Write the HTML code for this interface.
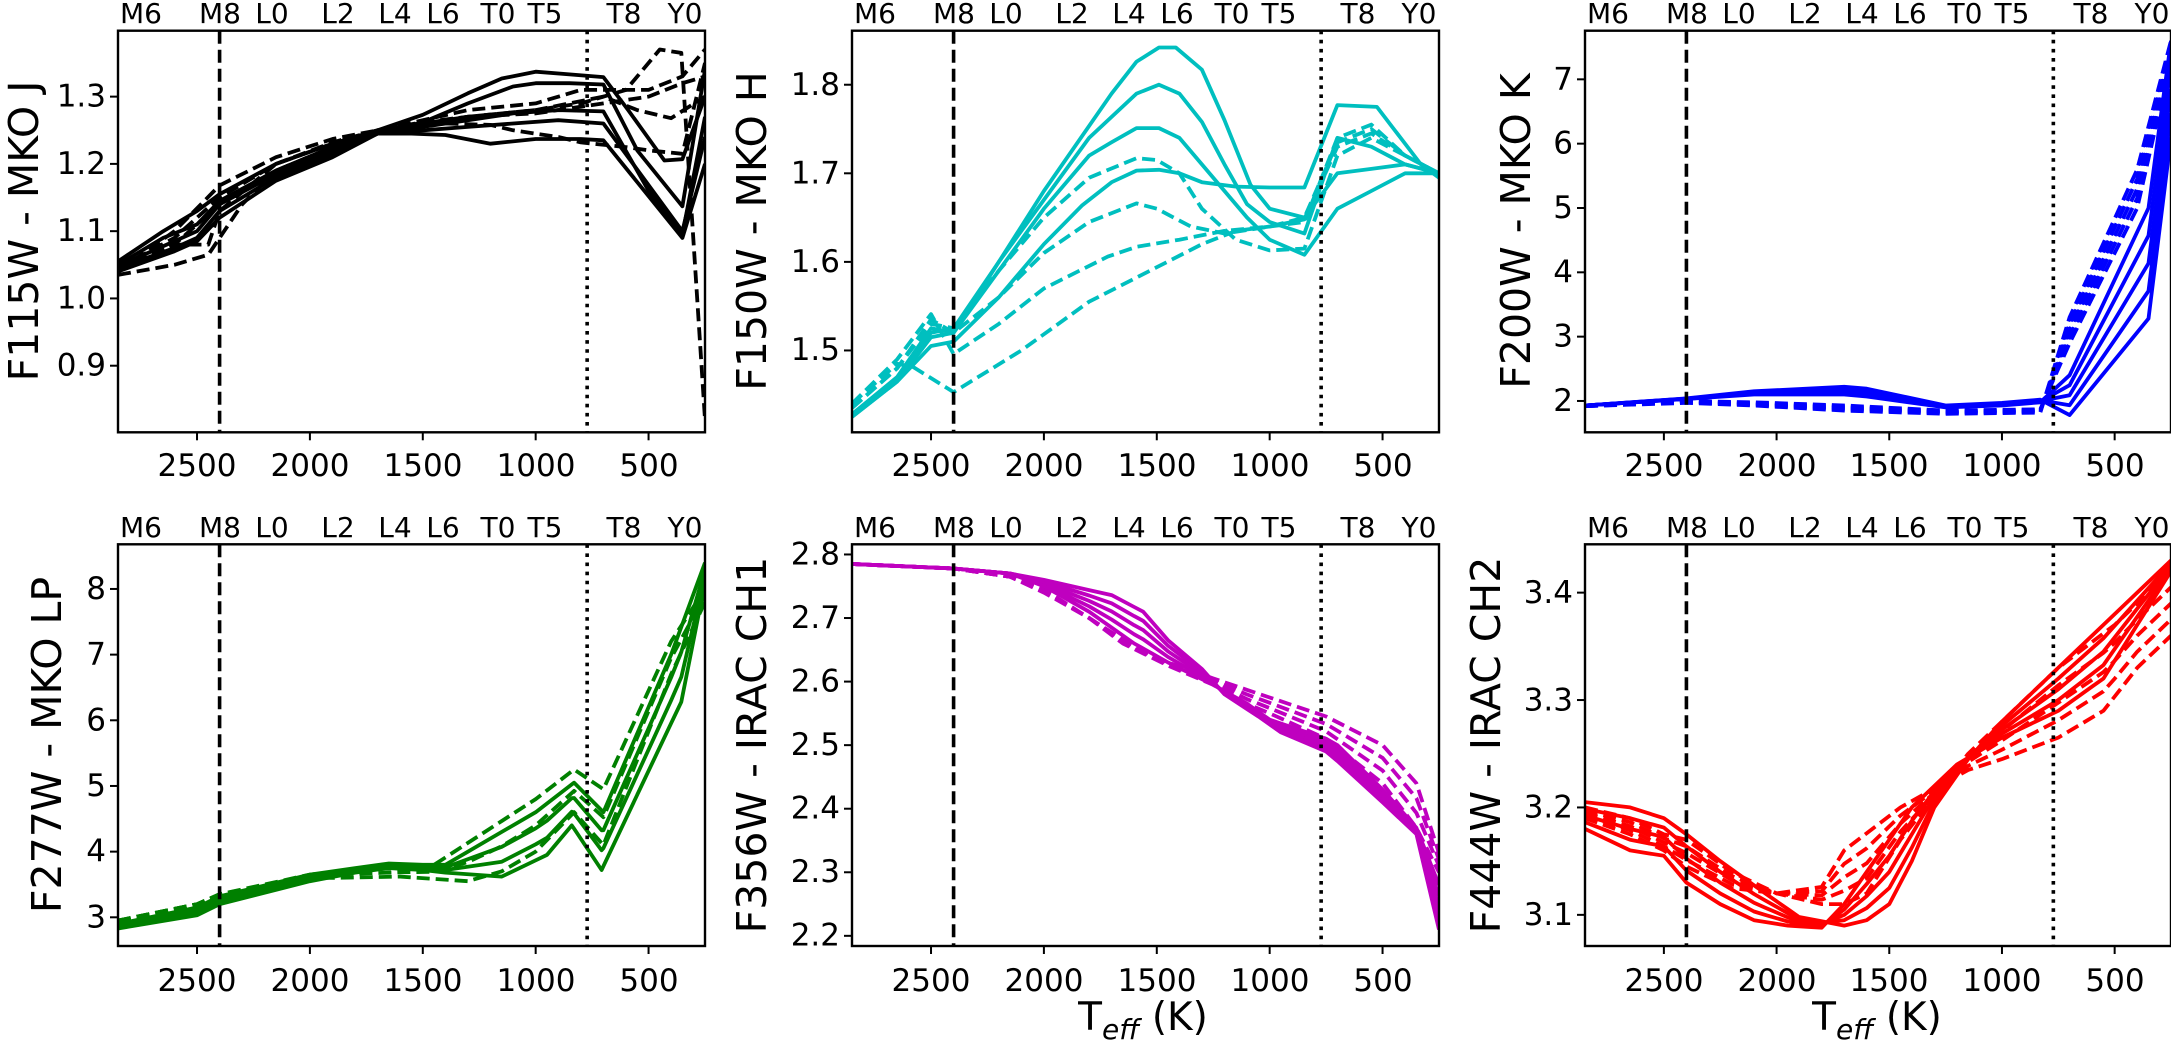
<!DOCTYPE html>
<html><head><meta charset="utf-8"><style>
html,body{margin:0;padding:0;background:#fff;}
svg{display:block;}
text{font-family:"DejaVu Sans","Liberation Sans",sans-serif;fill:#000;}
.tk{font-size:31px;}
.sp{font-size:28px;text-anchor:middle;}
.yl{font-size:41px;text-anchor:middle;dominant-baseline:central;}
</style></head><body>
<svg id="s" width="2171" height="1043" viewBox="0 0 2171 1043" xmlns="http://www.w3.org/2000/svg">
<defs>
<clipPath id="c0"><rect x="118" y="30.7" width="587" height="401.6"/></clipPath>
<clipPath id="c1"><rect x="852" y="30.7" width="587" height="401.6"/></clipPath>
<clipPath id="c2"><rect x="1585" y="30.7" width="586" height="401.6"/></clipPath>
<clipPath id="c3"><rect x="118" y="544.3" width="587" height="401.7"/></clipPath>
<clipPath id="c4"><rect x="852" y="544.3" width="587" height="401.7"/></clipPath>
<clipPath id="c5"><rect x="1585" y="544.3" width="586" height="401.7"/></clipPath>
</defs>
<g id="curves"></g>
<g id="axes"></g>
<text class="yl" transform="translate(24,231) rotate(-90)">F115W - MKO J</text>
<text class="yl" transform="translate(752,231) rotate(-90)">F150W - MKO H</text>
<text class="yl" transform="translate(1516,231) rotate(-90)">F200W - MKO K</text>
<text class="yl" transform="translate(47,745) rotate(-90)">F277W - MKO LP</text>
<text class="yl" transform="translate(752,745) rotate(-90)">F356W - IRAC CH1</text>
<text class="yl" transform="translate(1486,745) rotate(-90)">F444W - IRAC CH2</text>
<text x="1143" y="1030" style="font-size:39px;text-anchor:middle">T<tspan dy="9" style="font-size:28px;font-style:italic">eff</tspan><tspan dy="-9"> (K)</tspan></text>
<text x="1877" y="1030" style="font-size:39px;text-anchor:middle">T<tspan dy="9" style="font-size:28px;font-style:italic">eff</tspan><tspan dy="-9"> (K)</tspan></text>
<g class="tk" style="text-anchor:end;dominant-baseline:central">
<text x="106" y="96.7">1.3</text><text x="106" y="163.9">1.2</text><text x="106" y="231.1">1.1</text><text x="106" y="298.3">1.0</text><text x="106" y="365.5">0.9</text>
<text x="840" y="85">1.8</text><text x="840" y="173.4">1.7</text><text x="840" y="261.8">1.6</text><text x="840" y="350.2">1.5</text>
<text x="1573" y="79.3">7</text><text x="1573" y="143.6">6</text><text x="1573" y="208">5</text><text x="1573" y="272.3">4</text><text x="1573" y="336.6">3</text><text x="1573" y="401">2</text>
<text x="106" y="589">8</text><text x="106" y="654.7">7</text><text x="106" y="720.3">6</text><text x="106" y="786">5</text><text x="106" y="851.7">4</text><text x="106" y="917.3">3</text>
<text x="840" y="554.7">2.8</text><text x="840" y="618.2">2.7</text><text x="840" y="681.7">2.6</text><text x="840" y="745.2">2.5</text><text x="840" y="808.7">2.4</text><text x="840" y="872.2">2.3</text><text x="840" y="935.7">2.2</text>
<text x="1573" y="593">3.4</text><text x="1573" y="700.3">3.3</text><text x="1573" y="807.7">3.2</text><text x="1573" y="915">3.1</text>
</g>
<g class="tk" style="text-anchor:middle">
<text x="197" y="476">2500</text><text x="310" y="476">2000</text><text x="423" y="476">1500</text><text x="536" y="476">1000</text><text x="649" y="476">500</text>
<text x="931" y="476">2500</text><text x="1044" y="476">2000</text><text x="1157" y="476">1500</text><text x="1270" y="476">1000</text><text x="1383" y="476">500</text>
<text x="1664" y="476">2500</text><text x="1777" y="476">2000</text><text x="1889" y="476">1500</text><text x="2002" y="476">1000</text><text x="2115" y="476">500</text>
<text x="197" y="991">2500</text><text x="310" y="991">2000</text><text x="423" y="991">1500</text><text x="536" y="991">1000</text><text x="649" y="991">500</text>
<text x="931" y="991">2500</text><text x="1044" y="991">2000</text><text x="1157" y="991">1500</text><text x="1270" y="991">1000</text><text x="1383" y="991">500</text>
<text x="1664" y="991">2500</text><text x="1777" y="991">2000</text><text x="1889" y="991">1500</text><text x="2002" y="991">1000</text><text x="2115" y="991">500</text>
</g>
<g class="sp">
<text x="141" y="23">M6</text><text x="220" y="23">M8</text><text x="272" y="23">L0</text><text x="338" y="23">L2</text><text x="395" y="23">L4</text><text x="443" y="23">L6</text><text x="498" y="23">T0</text><text x="545" y="23">T5</text><text x="624" y="23">T8</text><text x="685" y="23">Y0</text>
<text x="875" y="23">M6</text><text x="954" y="23">M8</text><text x="1006" y="23">L0</text><text x="1072" y="23">L2</text><text x="1129" y="23">L4</text><text x="1177" y="23">L6</text><text x="1232" y="23">T0</text><text x="1279" y="23">T5</text><text x="1358" y="23">T8</text><text x="1419" y="23">Y0</text>
<text x="1608" y="23">M6</text><text x="1687" y="23">M8</text><text x="1739" y="23">L0</text><text x="1805" y="23">L2</text><text x="1862" y="23">L4</text><text x="1910" y="23">L6</text><text x="1965" y="23">T0</text><text x="2012" y="23">T5</text><text x="2091" y="23">T8</text><text x="2152" y="23">Y0</text>
<text x="141" y="537">M6</text><text x="220" y="537">M8</text><text x="272" y="537">L0</text><text x="338" y="537">L2</text><text x="395" y="537">L4</text><text x="443" y="537">L6</text><text x="498" y="537">T0</text><text x="545" y="537">T5</text><text x="624" y="537">T8</text><text x="685" y="537">Y0</text>
<text x="875" y="537">M6</text><text x="954" y="537">M8</text><text x="1006" y="537">L0</text><text x="1072" y="537">L2</text><text x="1129" y="537">L4</text><text x="1177" y="537">L6</text><text x="1232" y="537">T0</text><text x="1279" y="537">T5</text><text x="1358" y="537">T8</text><text x="1419" y="537">Y0</text>
<text x="1608" y="537">M6</text><text x="1687" y="537">M8</text><text x="1739" y="537">L0</text><text x="1805" y="537">L2</text><text x="1862" y="537">L4</text><text x="1910" y="537">L6</text><text x="1965" y="537">T0</text><text x="2012" y="537">T5</text><text x="2091" y="537">T8</text><text x="2152" y="537">Y0</text>
</g>
</svg>
<script>
(function(){
var NS="http://www.w3.org/2000/svg";
var P=[
{L:118,R:705,T:30.7,B:432.3,y0:0.801,y1:1.398,c:"#000000",yt:[0.9,1.0,1.1,1.2,1.3]},
{L:852,R:1439,T:30.7,B:432.3,y0:1.4076,y1:1.861,c:"#00bfbf",yt:[1.5,1.6,1.7,1.8]},
{L:1585,R:2171,T:30.7,B:432.3,y0:1.513,y1:7.756,c:"#0000ff",yt:[2,3,4,5,6,7]},
{L:118,R:705,T:544.3,B:946,y0:2.563,y1:8.68,c:"#008000",yt:[3,4,5,6,7,8]},
{L:852,R:1439,T:544.3,B:946,y0:2.184,y1:2.816,c:"#bf00bf",yt:[2.2,2.3,2.4,2.5,2.6,2.7,2.8]},
{L:1585,R:2171,T:544.3,B:946,y0:3.071,y1:3.445,c:"#ff0000",yt:[3.1,3.2,3.3,3.4]}
];
function X(p,t){return p.L+(2850-t)/2600*(p.R-p.L);}
function Y(p,v){return p.B-(v-p.y0)/(p.y1-p.y0)*(p.B-p.T);}
function ip(a,t){for(var i=0;i<a.length-1;i++){var A=a[i],B=a[i+1];if(t<=A[0]&&t>=B[0]){var f=(A[0]-t)/(A[0]-B[0]||1);return A[1]+f*(B[1]-A[1]);}}return t>a[0][0]?a[0][1]:a[a.length-1][1];}
function mix(a,b,f){var ts={};a.forEach(function(q){ts[q[0]]=1});b.forEach(function(q){ts[q[0]]=1});
 var arr=Object.keys(ts).map(Number).sort(function(x,y){return y-x});
 return arr.map(function(t){return [t,ip(a,t)*(1-f)+ip(b,t)*f];});}
var cg=document.getElementById("curves"),ag=document.getElementById("axes");
function el(n,at,par){var e=document.createElementNS(NS,n);for(var k in at)e.setAttribute(k,at[k]);par.appendChild(e);return e;}
function draw(i,pts,dash){var p=P[i];var d=pts.map(function(q,j){return (j?"L":"M")+X(p,q[0]).toFixed(1)+" "+Y(p,q[1]).toFixed(1)}).join("");
 var a={d:d,fill:"none",stroke:p.c,"stroke-width":3.8,"stroke-linejoin":"round","clip-path":"url(#c"+i+")"};if(dash)a["stroke-dasharray"]="13 6";el("path",a,cg);}
var D=[];
D[0]={s:[
[[2850,1.055],[2650,1.10],[2500,1.13],[2400,1.155],[2150,1.20],[1900,1.23],[1700,1.25],[1500,1.273],[1300,1.305],[1150,1.327],[1000,1.337],[850,1.333],[700,1.329],[590,1.28],[430,1.205],[350,1.207],[250,1.30]],
[[2850,1.05],[2650,1.09],[2500,1.11],[2400,1.145],[2150,1.19],[1900,1.225],[1700,1.245],[1500,1.262],[1300,1.29],[1100,1.315],[1000,1.32],[850,1.32],[700,1.318],[550,1.22],[350,1.137],[250,1.34]],
[[2850,1.048],[2600,1.085],[2500,1.10],[2400,1.14],[2150,1.185],[1900,1.22],[1700,1.245],[1500,1.255],[1300,1.265],[1100,1.275],[900,1.28],[700,1.278],[500,1.16],[350,1.095],[250,1.27]],
[[2850,1.045],[2600,1.075],[2500,1.09],[2400,1.13],[2150,1.18],[1900,1.215],[1700,1.245],[1500,1.25],[1300,1.255],[1100,1.26],[900,1.265],[700,1.26],[350,1.10],[250,1.24]],
[[2850,1.04],[2600,1.07],[2500,1.085],[2400,1.12],[2150,1.175],[1900,1.21],[1700,1.245],[1550,1.245],[1400,1.243],[1200,1.23],[1000,1.237],[800,1.237],[700,1.235],[350,1.09],[250,1.20]]],
d:[
[[2850,1.035],[2600,1.05],[2450,1.065],[2400,1.09],[2300,1.14],[2150,1.19],[1900,1.225],[1700,1.25],[1500,1.26],[1300,1.27],[1000,1.28],[800,1.29],[600,1.31],[450,1.37],[355,1.365],[250,0.82]],
[[2850,1.04],[2600,1.10],[2400,1.168],[2150,1.21],[1900,1.237],[1700,1.25],[1500,1.265],[1300,1.28],[1000,1.29],[800,1.31],[600,1.31],[500,1.31],[350,1.33],[250,1.37]],
[[2850,1.042],[2600,1.08],[2450,1.08],[2400,1.13],[2150,1.2],[1900,1.23],[1700,1.25],[1400,1.26],[1200,1.258],[1100,1.25],[900,1.24],[800,1.232],[600,1.225],[500,1.22],[350,1.215],[250,1.35]],
[[2850,1.045],[2600,1.09],[2400,1.15],[2150,1.2],[1900,1.232],[1700,1.25],[1500,1.262],[1300,1.27],[1000,1.28],[700,1.30],[550,1.28],[400,1.268],[250,1.30]],
[[2850,1.04],[2600,1.08],[2400,1.14],[2150,1.19],[1900,1.225],[1700,1.25],[1500,1.26],[1300,1.27],[1000,1.275],[700,1.29],[500,1.30],[350,1.32],[250,1.33]]]};
D[1]={s:[
[[2850,1.428],[2650,1.47],[2500,1.525],[2400,1.52],[2200,1.6],[2000,1.68],[1700,1.79],[1590,1.826],[1490,1.842],[1416,1.842],[1300,1.817],[1200,1.76],[1085,1.687],[1000,1.66],[846,1.65],[700,1.70],[550,1.705],[400,1.71],[250,1.70]],
[[2850,1.428],[2650,1.468],[2500,1.52],[2400,1.525],[2200,1.6],[2000,1.67],[1800,1.74],[1590,1.79],[1490,1.80],[1400,1.79],[1300,1.758],[1200,1.71],[1100,1.665],[1000,1.645],[846,1.632],[700,1.74],[550,1.73],[400,1.71],[250,1.70]],
[[2850,1.425],[2650,1.465],[2500,1.515],[2400,1.52],[2200,1.59],[2000,1.66],[1800,1.72],[1700,1.735],[1590,1.751],[1490,1.751],[1400,1.74],[1300,1.71],[1200,1.68],[1100,1.65],[1000,1.625],[846,1.608],[700,1.66],[550,1.68],[400,1.70],[250,1.70]],
[[2850,1.425],[2650,1.465],[2500,1.505],[2400,1.51],[2200,1.56],[2000,1.62],[1830,1.664],[1700,1.69],[1590,1.703],[1490,1.704],[1400,1.70],[1300,1.69],[1150,1.685],[1000,1.684],[846,1.684],[700,1.777],[525,1.775],[450,1.75],[330,1.71],[250,1.695]]],
d:[
[[2850,1.44],[2650,1.49],[2500,1.541],[2400,1.496],[2200,1.53],[2000,1.57],[1717,1.606],[1590,1.617],[1400,1.625],[1200,1.635],[1000,1.64],[846,1.645],[700,1.74],[550,1.755],[400,1.72],[250,1.70]],
[[2850,1.44],[2650,1.485],[2577,1.481],[2400,1.453],[2100,1.50],[1800,1.555],[1500,1.594],[1300,1.62],[1150,1.635],[1000,1.64],[846,1.648],[700,1.73],[550,1.745],[400,1.72],[250,1.70]],
[[2850,1.435],[2650,1.48],[2500,1.535],[2400,1.52],[2200,1.56],[2000,1.61],[1800,1.645],[1590,1.666],[1500,1.66],[1350,1.64],[1200,1.632],[1000,1.64],[846,1.65],[700,1.735],[550,1.75],[400,1.72],[250,1.70]],
[[2850,1.435],[2650,1.48],[2500,1.53],[2400,1.525],[2200,1.59],[2000,1.65],[1800,1.695],[1590,1.717],[1500,1.715],[1400,1.70],[1300,1.66],[1150,1.625],[1000,1.613],[846,1.615],[700,1.72],[550,1.74],[400,1.72],[250,1.70]]]};
function fam(a,b,n){var r=[];for(var k=0;k<n;k++)r.push(mix(a,b,n>1?k/(n-1):0));return r;}
D[2]={s:fam([[2850,1.93],[2400,2.04],[2100,2.15],[1700,2.22],[1600,2.19],[1250,1.93],[1000,1.97],[830,2.02],[700,1.78],[350,3.28],[250,6.1]],
 [[2850,1.93],[2400,2.03],[2100,2.1],[1700,2.1],[1600,2.07],[1250,1.9],[1000,1.93],[830,1.98],[700,2.4],[350,5.0],[250,7.6]],5),
 d:fam([[2850,1.92],[2400,2.0],[2100,1.98],[1700,1.93],[1250,1.85],[830,1.87],[700,2.9],[400,5.0],[250,7.3]],
 [[2850,1.92],[2400,1.97],[2100,1.93],[1700,1.85],[1250,1.8],[830,1.82],[700,3.3],[400,5.6],[250,7.6]],5)};
D[3]={s:fam([[2850,2.83],[2500,3.03],[2400,3.2],[2000,3.55],[1800,3.68],[1650,3.75],[1500,3.72],[1400,3.68],[1150,3.62],[950,3.95],[840,4.4],[708,3.72],[355,6.28],[250,8.1]],
 [[2850,2.9],[2500,3.15],[2400,3.32],[2000,3.65],[1800,3.75],[1650,3.82],[1500,3.8],[1400,3.8],[1000,4.6],[830,5.05],[700,4.6],[400,7.0],[250,8.4]],4),
 d:fam([[2850,2.95],[2500,3.2],[2400,3.35],[2000,3.6],[1900,3.6],[1600,3.62],[1300,3.55],[1150,3.7],[1000,4.0],[830,4.6],[700,4.1],[400,6.7],[250,7.8]],
 [[2850,2.95],[2500,3.2],[2400,3.35],[2000,3.65],[1800,3.72],[1600,3.75],[1450,3.8],[1000,4.8],[830,5.25],[700,4.95],[400,7.2],[250,8.0]],3)};
D[4]={s:fam([[2850,2.785],[2400,2.778],[2150,2.77],[2000,2.76],[1700,2.736],[1560,2.71],[1450,2.665],[1300,2.62],[1200,2.58],[1050,2.545],[950,2.52],[750,2.49],[700,2.475],[500,2.41],[350,2.36],[250,2.21]],
 [[2850,2.785],[2400,2.778],[2150,2.77],[2000,2.75],[1800,2.71],[1600,2.66],[1450,2.63],[1250,2.595],[1100,2.565],[1000,2.54],[750,2.51],[700,2.5],[500,2.43],[350,2.37],[250,2.28]],5),
 d:fam([[2850,2.785],[2400,2.778],[2150,2.765],[2000,2.745],[1800,2.70],[1650,2.66],[1450,2.625],[1250,2.595],[1100,2.565],[1000,2.55],[750,2.51],[500,2.44],[350,2.37],[250,2.30]],
 [[2850,2.785],[2400,2.778],[2150,2.765],[2000,2.74],[1800,2.70],[1600,2.655],[1450,2.63],[1250,2.605],[1000,2.575],[750,2.545],[500,2.50],[350,2.44],[250,2.33]],4)};
D[5]={s:fam([[2850,3.205],[2650,3.2],[2500,3.19],[2400,3.175],[2250,3.15],[2050,3.12],[1900,3.098],[1700,3.09],[1600,3.095],[1500,3.11],[1400,3.15],[1300,3.2],[1150,3.245],[1000,3.28],[850,3.31],[750,3.33],[600,3.36],[400,3.40],[250,3.43]],
 [[2850,3.18],[2650,3.16],[2500,3.155],[2400,3.13],[2250,3.11],[2100,3.095],[1950,3.09],[1800,3.088],[1700,3.11],[1600,3.14],[1400,3.2],[1200,3.24],[1000,3.265],[750,3.29],[550,3.32],[400,3.37],[250,3.42]],5),
 d:fam([[2850,3.2],[2650,3.19],[2500,3.175],[2400,3.17],[2200,3.14],[2000,3.12],[1900,3.115],[1800,3.11],[1700,3.11],[1600,3.12],[1450,3.17],[1300,3.21],[1150,3.25],[1000,3.28],[750,3.33],[500,3.37],[250,3.42]],
 [[2850,3.19],[2650,3.175],[2500,3.16],[2400,3.145],[2200,3.125],[2000,3.12],[1800,3.126],[1700,3.16],[1450,3.2],[1150,3.235],[1000,3.245],[750,3.265],[550,3.29],[400,3.33],[250,3.36]],5)};
for(var i=0;i<6;i++){var p=P[i];
 D[i].s.forEach(function(c){draw(i,c,false)});D[i].d.forEach(function(c){draw(i,c,true)});
 var xd=X(p,2400),xo=X(p,772);
 el("line",{x1:xd,x2:xd,y1:p.T,y2:p.B,stroke:"#000","stroke-width":3.6,"stroke-dasharray":"13 6"},ag);
 el("line",{x1:xo,x2:xo,y1:p.T,y2:p.B,stroke:"#000","stroke-width":3.6,"stroke-dasharray":"3.6 5.5"},ag);
 el("rect",{x:p.L,y:p.T,width:p.R-p.L,height:p.B-p.T,fill:"none",stroke:"#000","stroke-width":2.4},ag);
 [2500,2000,1500,1000,500].forEach(function(t){var x=X(p,t);el("line",{x1:x,x2:x,y1:p.B,y2:p.B+8,stroke:"#000","stroke-width":2},ag);});
 p.yt.forEach(function(v){var y=Y(p,v);el("line",{x1:p.L-8,x2:p.L,y1:y,y2:y,stroke:"#000","stroke-width":2},ag);});
}
})();
</script>
</body></html>
